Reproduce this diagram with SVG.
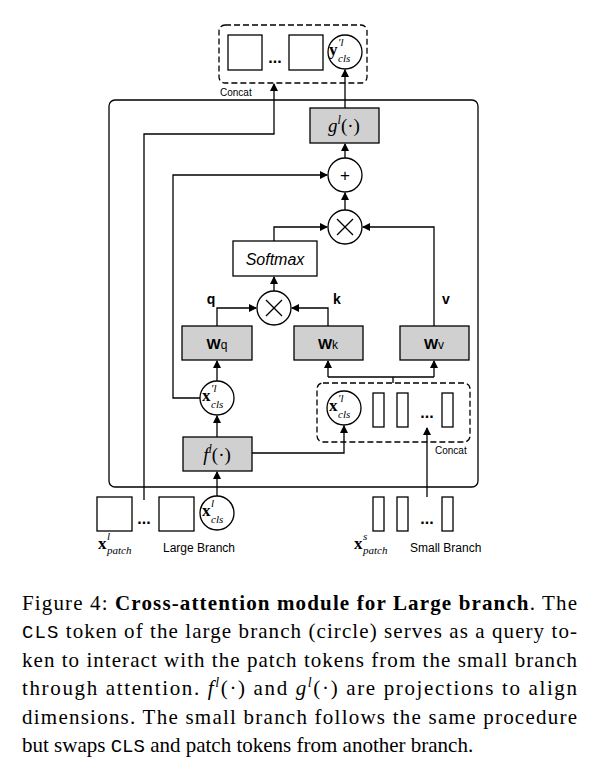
<svg xmlns="http://www.w3.org/2000/svg" width="600" height="763" viewBox="0 0 600 763">
<defs>
<marker id="ah" markerWidth="8" markerHeight="8" refX="7" refY="4" orient="auto" markerUnits="userSpaceOnUse"><path d="M0,0 L8,4 L0,8 z" fill="#000"/></marker>
<style>
.ln{fill:none;stroke:#000;stroke-width:1.3}
.bx{fill:#fff;stroke:#000;stroke-width:1.3}
.gb{fill:#d0d0d0;stroke:#000;stroke-width:1.3}
.ds{fill:none;stroke:#000;stroke-width:1.3;stroke-dasharray:6,3}
.sa{font-family:"Liberation Sans",Arial,sans-serif;fill:#000}
.se{font-family:"Liberation Serif","Times New Roman",serif;fill:#000}
.mo{font-family:"Liberation Mono","Courier New",monospace}
.bxl{font-family:"Liberation Serif",serif;font-size:17px;font-weight:bold}
.sc{font-family:"Liberation Serif",serif;font-size:11px;font-style:italic}
</style>
</defs>
<rect x="0" y="0" width="600" height="763" fill="#fff"/>
<g id="frame"><rect x="109" y="100" width="369" height="387" rx="6" class="ln"/></g>
<g id="concat-top">
<rect x="219" y="25" width="148" height="58" rx="6" class="ds"/>
<rect x="228" y="35" width="34" height="35" class="bx"/>
<text x="275" y="63" class="sa" font-size="16" font-weight="bold" text-anchor="middle">...</text>
<rect x="289" y="35" width="34" height="35" class="bx"/>
<circle cx="345" cy="52" r="17" class="bx"/>
<text x="329" y="55" class="bxl">y</text><text x="338" y="46" class="sc">′l</text><text x="338" y="62" class="sc">cls</text>
<text x="220" y="96" class="sa" font-size="10">Concat</text>
</g>
<g id="g-box"><rect x="310" y="108" width="69" height="35" class="gb"/><text x="344" y="132" class="se" font-size="19" font-style="italic" text-anchor="middle">g<tspan font-size="12" dy="-8">l</tspan><tspan dy="8" font-style="normal">(·)</tspan></text></g>
<g id="plus"><circle cx="345" cy="175" r="17" class="bx"/><text x="345" y="181" class="sa" font-size="17" text-anchor="middle">+</text></g>
<g id="mul1"><circle cx="345" cy="227" r="17" class="bx"/><path d="M337,219 L353,235 M353,219 L337,235" class="ln"/></g>
<g id="softmax"><rect x="233" y="241" width="84" height="35" class="bx"/><text x="275" y="265" class="sa" font-size="16" font-style="italic" text-anchor="middle">Softmax</text></g>
<g id="mul2"><circle cx="274" cy="308" r="17" class="bx"/><path d="M266,300 L282,316 M282,300 L266,316" class="ln"/></g>
<g id="labels-qkv" class="sa" font-size="14" font-weight="bold">
<text x="211" y="304" text-anchor="middle">q</text><text x="337" y="304" text-anchor="middle">k</text><text x="446" y="304" text-anchor="middle">v</text></g>
<g id="wq"><rect x="182" y="326" width="70" height="34" class="gb"/><text x="217" y="349" class="sa" font-size="15" text-anchor="middle"><tspan font-weight="bold">W</tspan><tspan font-size="12">q</tspan></text></g>
<g id="wk"><rect x="294" y="326" width="69" height="34" class="gb"/><text x="328" y="349" class="sa" font-size="15" text-anchor="middle"><tspan font-weight="bold">W</tspan><tspan font-size="12">k</tspan></text></g>
<g id="wv"><rect x="400" y="326" width="69" height="34" class="gb"/><text x="434" y="349" class="sa" font-size="15" text-anchor="middle"><tspan font-weight="bold">W</tspan><tspan font-size="12">v</tspan></text></g>
<g id="xcls-prime"><circle cx="217" cy="398" r="17" class="bx"/>
<text x="202" y="401" class="bxl">x</text><text x="211" y="392" class="sc">′l</text><text x="211" y="408" class="sc">cls</text></g>
<g id="f-box"><rect x="183" y="437" width="69" height="34" class="gb"/><text x="217" y="461" class="se" font-size="19" font-style="italic" text-anchor="middle">f<tspan font-size="12" dy="-8">l</tspan><tspan dy="8" font-style="normal">(·)</tspan></text></g>
<g id="concat-mid">
<rect x="317" y="383" width="153" height="59" rx="6" class="ds"/>
<circle cx="344" cy="408" r="17" class="bx"/>
<text x="329" y="411" class="bxl">x</text><text x="338" y="402" class="sc">′l</text><text x="338" y="418" class="sc">cls</text>
<rect x="373" y="393" width="11" height="34" class="bx"/>
<rect x="397" y="393" width="11" height="34" class="bx"/>
<text x="427" y="418" class="sa" font-size="16" font-weight="bold" text-anchor="middle">...</text>
<rect x="442" y="393" width="11" height="34" class="bx"/>
<text x="435" y="454" class="sa" font-size="10">Concat</text>
</g>
<g id="large-branch">
<rect x="97" y="497" width="35" height="34" class="bx"/>
<text x="144" y="524" class="sa" font-size="16" font-weight="bold" text-anchor="middle">...</text>
<rect x="159" y="497" width="35" height="34" class="bx"/>
<circle cx="217" cy="513" r="17" class="bx"/>
<text x="202" y="516" class="bxl">x</text><text x="211" y="507" class="sc">l</text><text x="211" y="523" class="sc">cls</text>
<text x="98" y="549" class="bxl">x</text><text x="107" y="540" class="sc">l</text><text x="107" y="554" class="sc">patch</text>
<text x="163" y="552" class="sa" font-size="12">Large Branch</text>
</g>
<g id="small-branch">
<rect x="373" y="497" width="11" height="34" class="bx"/>
<rect x="397" y="497" width="11" height="34" class="bx"/>
<text x="427" y="524" class="sa" font-size="16" font-weight="bold" text-anchor="middle">...</text>
<rect x="442" y="497" width="11" height="34" class="bx"/>
<text x="354" y="549" class="bxl">x</text><text x="363" y="540" class="sc">s</text><text x="363" y="554" class="sc">patch</text>
<text x="410" y="552" class="sa" font-size="12">Small Branch</text>
</g>
<g id="connectors">
<path d="M144,500 L144,134 L274,134 L274,84" class="ln" marker-end="url(#ah)"/>
<path d="M345,108 L345,70" class="ln" marker-end="url(#ah)"/>
<path d="M345,158 L345,144" class="ln" marker-end="url(#ah)"/>
<path d="M345,210 L345,193" class="ln" marker-end="url(#ah)"/>
<path d="M200,398 L173,398 L173,175 L327,175" class="ln" marker-end="url(#ah)"/>
<path d="M274,241 L274,227 L327,227" class="ln" marker-end="url(#ah)"/>
<path d="M434,326 L434,227 L363,227" class="ln" marker-end="url(#ah)"/>
<path d="M274,291 L274,277" class="ln" marker-end="url(#ah)"/>
<path d="M217,326 L217,308 L256,308" class="ln" marker-end="url(#ah)"/>
<path d="M328,326 L328,308 L292,308" class="ln" marker-end="url(#ah)"/>
<path d="M217,381 L217,361" class="ln" marker-end="url(#ah)"/>
<path d="M217,437 L217,416" class="ln" marker-end="url(#ah)"/>
<path d="M217,496 L217,472" class="ln" marker-end="url(#ah)"/>
<path d="M252,453 L344,453 L344,426" class="ln" marker-end="url(#ah)"/>
<path d="M393,383 L393,377 M328,377 L434,377" class="ln"/>
<path d="M328,377 L328,361" class="ln" marker-end="url(#ah)"/>
<path d="M434,377 L434,361" class="ln" marker-end="url(#ah)"/>
<path d="M427,497 L427,428" class="ln" marker-end="url(#ah)"/>
</g>
<g id="caption" class="se" font-size="21">
<text x="22" y="610" textLength="555" lengthAdjust="spacing">Figure 4: <tspan font-weight="bold">Cross-attention module for Large branch</tspan>. The</text>
<text x="22" y="638" textLength="555" lengthAdjust="spacing"><tspan class="mo" font-size="19">CLS</tspan> token of the large branch (circle) serves as a query to-</text>
<text x="22" y="667" textLength="555" lengthAdjust="spacing">ken to interact with the patch tokens from the small branch</text>
<text x="22" y="695" textLength="555" lengthAdjust="spacing">through attention. <tspan font-style="italic">f</tspan><tspan font-style="italic" font-size="14" dy="-8">l</tspan><tspan dy="8">(·) and </tspan><tspan font-style="italic">g</tspan><tspan font-style="italic" font-size="14" dy="-8">l</tspan><tspan dy="8">(·) are projections to align</tspan></text>
<text x="22" y="724" textLength="555" lengthAdjust="spacing">dimensions. The small branch follows the same procedure</text>
<text x="22" y="752">but swaps <tspan class="mo" font-size="19">CLS</tspan> and patch tokens from another branch.</text>
</g>
</svg>
